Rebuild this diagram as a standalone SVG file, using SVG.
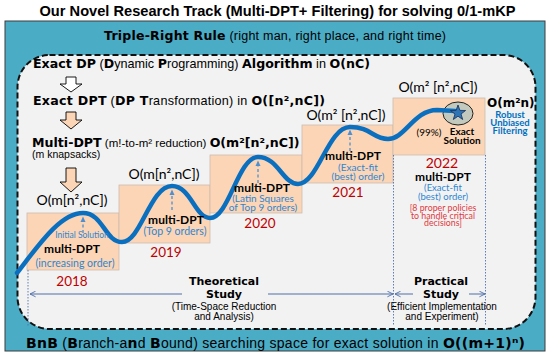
<svg xmlns="http://www.w3.org/2000/svg" width="550" height="357" viewBox="0 0 550 357">
<style>
.r{font-family:"Liberation Sans",Arial,sans-serif;fill:#000}
.b{font-family:"DejaVu Sans",Verdana,sans-serif;font-weight:bold}
.c{font-family:Lato,"Liberation Sans",sans-serif}
.cb{font-family:Lato,"Liberation Sans",sans-serif;font-weight:bold}
.blue{fill:#2f86d2}
.red{fill:#c00000}
.box{fill:#fbd5b5;stroke:#cdbcae;stroke-width:0.8}
.dash{stroke:#4d8fd0;stroke-width:1.3;stroke-dasharray:3 2.5;fill:none}
.dot{stroke:#4f6fb0;stroke-width:0.9;stroke-dasharray:1.5 1.5;fill:none}
.sa{stroke:#4f6fa8;stroke-width:1;fill:none}
</style>
<defs>
<marker id="ah" viewBox="0 0 10 10" refX="5" refY="5" markerWidth="5" markerHeight="5" orient="auto"><path d="M0,1 L9,5 L0,9 Z" fill="#4d8fd0"/></marker>
<marker id="chev" viewBox="0 0 10 10" refX="9" refY="5" markerWidth="7" markerHeight="7" orient="auto-start-reverse"><path d="M1,1 L9,5 L1,9" fill="none" stroke="#4f6fa8" stroke-width="1.3"/></marker>
</defs>

<text x="277.5" y="16" class="r" font-size="14.6" font-weight="bold" text-anchor="middle" textLength="476">Our Novel Research Track (Multi-DPT+ Filtering) for solving 0/1-mKP</text>

<g id="frame">
<rect x="5" y="21" width="540" height="330" fill="#4bacc6" stroke="#3c3c3c" stroke-width="1"/>
<text x="104" y="39.5" class="r" font-size="12.5" textLength="342"><tspan class="b">Triple-Right Rule</tspan> (right man, right place, and right time)</text>
<rect x="17.5" y="55" width="518" height="274" rx="32" fill="#f2f2f2" stroke="#111" stroke-width="2" stroke-dasharray="6 3"/>
<text x="26" y="348" class="r" font-size="14" textLength="499"><tspan class="b">BnB</tspan> (<tspan class="b">B</tspan>ranch-a<tspan class="b">n</tspan>d <tspan class="b">B</tspan>ound) searching space for exact solution in <tspan class="b">O((m+1)ⁿ)</tspan></text>
</g>

<g id="left-steps">
<text x="33" y="68" class="r" font-size="12.6" textLength="337"><tspan class="b">Exact DP</tspan> (<tspan class="b">D</tspan>ynamic <tspan class="b">P</tspan>rogramming) <tspan class="b">Algorithm</tspan> in <tspan class="b">O(nC)</tspan></text>
<path d="M66,77 H76 V84 H82 L71,92 L60,84 H66 Z" fill="#fff" stroke="#000" stroke-width="0.9"/>
<text x="33" y="105" class="r" font-size="12.6" textLength="292"><tspan class="b">Exact DPT</tspan> (<tspan class="b">DP T</tspan>ransformation) in <tspan class="b">O([n²,nC])</tspan></text>
<path d="M66,112 H76 V120 H82 L71,129 L60,120 H66 Z" fill="#fbd5b5" stroke="#000" stroke-width="0.9"/>
<text x="32" y="147" class="r" font-size="11.5"><tspan class="b" font-size="12.6">Multi-DPT</tspan> (m!-to-m² reduction) <tspan class="b" font-size="12.6">O(m²[n²,nC])</tspan></text>
<text x="32" y="158" class="r" font-size="10.5">(m knapsacks)</text>
<path d="M66,168 H76 V182 H82 L71,192 L60,182 H66 Z" fill="#fbd5b5" stroke="#000" stroke-width="0.9"/>
</g>

<g id="boxes">
<rect class="box" x="27" y="213" width="92" height="57"/>
<rect class="box" x="119" y="185" width="91" height="58"/>
<rect class="box" x="210" y="155" width="92" height="58"/>
<rect class="box" x="302" y="125" width="91" height="58"/>
<rect class="box" x="393" y="98" width="92" height="57"/>
</g>

<g id="connectors">
<line class="dot" x1="28" y1="270" x2="28" y2="326"/>
<line class="dot" x1="393.5" y1="155" x2="393.5" y2="326"/>
<line class="dot" x1="485.5" y1="155" x2="485.5" y2="326"/>
<line class="sa" x1="30" y1="294" x2="182" y2="294" marker-start="url(#chev)"/>
<line class="sa" x1="268" y1="294" x2="393" y2="294" marker-end="url(#chev)"/>
<line class="sa" x1="395" y1="294" x2="413" y2="294" marker-start="url(#chev)"/>
<line class="sa" x1="469" y1="294" x2="485" y2="294" marker-end="url(#chev)"/>
<line class="dash" x1="83" y1="233" x2="83" y2="219" marker-end="url(#ah)"/>
<line class="dash" x1="172" y1="210" x2="172" y2="192" marker-end="url(#ah)"/>
<line class="dash" x1="258" y1="183" x2="258" y2="163" marker-end="url(#ah)"/>
<line class="dash" x1="350" y1="151" x2="350" y2="132" marker-end="url(#ah)"/>
<ellipse cx="458" cy="113.5" rx="15" ry="11.5" fill="#c3c9bc" stroke="#111" stroke-width="0.9"/>
<path d="M17,273 C38,246 60,213 83,213 C103,213 105,242 122,242 C141,242 150,186 172,186 C191,186 195,218 210,218 C229,218 238,157 258,157 C278,157 283,184 298,184 C318,184 328,127 350,127 C371,127 373,139 388,139 C405,139 414,110 437,110 L455,111" fill="none" stroke="#0b6fc0" stroke-width="4.5" stroke-linecap="round"/>
<path d="M458,105 L459.9,110.4 L465.6,110.5 L461,114 L462.7,119.5 L458,116.2 L453.3,119.5 L455,114 L450.4,110.5 L456.1,110.4 Z" fill="#2e75b6" stroke="#1f3864" stroke-width="0.9"/>
</g>

<g id="step-2018">
<text x="72" y="205" class="c" font-size="14" text-anchor="middle">O(m[n²,nC])</text>
<text x="82" y="238" class="c blue" font-size="8.5" text-anchor="middle">Initial Solution</text>
<text x="72" y="253" class="cb" font-size="12" text-anchor="middle">multi-DPT</text>
<text x="75" y="267" class="c blue" font-size="10.5" text-anchor="middle">(increasing order)</text>
<text x="72" y="286" class="c red" font-size="13.5" text-anchor="middle">2018</text>
</g>

<g id="step-2019">
<text x="164" y="179" class="c" font-size="14" text-anchor="middle">O(m[n²,nC])</text>
<text x="176" y="224" class="cb" font-size="12" text-anchor="middle">multi-DPT</text>
<text x="175" y="235" class="c blue" font-size="10.5" text-anchor="middle">(Top 9 orders)</text>
<text x="166" y="257" class="c red" font-size="13.5" text-anchor="middle">2019</text>
</g>

<g id="step-2020">
<text x="262" y="192" class="cb" font-size="12" text-anchor="middle">multi-DPT</text>
<text x="263" y="202" class="c blue" font-size="10" text-anchor="middle">(Latin Squares</text>
<text x="263" y="211" class="c blue" font-size="10" text-anchor="middle">of Top 9 orders)</text>
<text x="260" y="228" class="c red" font-size="13.5" text-anchor="middle">2020</text>
</g>

<g id="step-2021">
<text x="346" y="120" class="c" font-size="14" text-anchor="middle">O(m² [n²,nC])</text>
<text x="353" y="160" class="cb" font-size="12" text-anchor="middle">multi-DPT</text>
<text x="358" y="171" class="c blue" font-size="10" text-anchor="middle">(Exact-fit</text>
<text x="358" y="180" class="c blue" font-size="10" text-anchor="middle">(best) order)</text>
<text x="348" y="197" class="c red" font-size="13.5" text-anchor="middle">2021</text>
</g>

<g id="step-2022">
<text x="438" y="92" class="c" font-size="14" text-anchor="middle">O(m² [n²,nC])</text>
<text x="429" y="136" class="c" font-size="10" text-anchor="middle">(99%)</text>
<text x="462" y="135" class="cb" font-size="10" text-anchor="middle">Exact</text>
<text x="462" y="144" class="cb" font-size="10" text-anchor="middle">Solution</text>
<text x="442" y="168" class="c red" font-size="14" text-anchor="middle">2022</text>
<text x="443" y="181" class="cb" font-size="12" text-anchor="middle">multi-DPT</text>
<text x="443" y="191" class="c blue" font-size="9.5" text-anchor="middle">(Exact-fit</text>
<text x="443" y="200" class="c blue" font-size="9.5" text-anchor="middle">(best) order)</text>
<text x="443" y="211" class="c" font-size="8.8" fill="#e0393e" text-anchor="middle">[8 proper policies</text>
<text x="443" y="218.5" class="c" font-size="8.8" fill="#e0393e" text-anchor="middle">to handle critical</text>
<text x="443" y="226" class="c" font-size="8.8" fill="#e0393e" text-anchor="middle">decisions]</text>
</g>

<g id="filtering">
<text x="487" y="107" class="b" font-size="12">O(m²n)</text>
<text x="510" y="118" class="cb" font-size="9.5" fill="#0070c0" text-anchor="middle">Robust</text>
<text x="510" y="126" class="cb" font-size="9.5" fill="#0070c0" text-anchor="middle">Unbiased</text>
<text x="510" y="134" class="cb" font-size="9.5" fill="#0070c0" text-anchor="middle">Filtering</text>
</g>

<g id="study-labels">
<text x="224" y="285" class="b" font-size="11" text-anchor="middle">Theoretical</text>
<text x="224" y="298" class="b" font-size="11" text-anchor="middle">Study</text>
<text x="224" y="310" class="r" font-size="10" text-anchor="middle">(Time-Space Reduction</text>
<text x="224" y="320" class="r" font-size="10" text-anchor="middle">and Analysis)</text>
<text x="441" y="285" class="b" font-size="11" text-anchor="middle">Practical</text>
<text x="441" y="298" class="b" font-size="11" text-anchor="middle">Study</text>
<text x="442" y="310" class="r" font-size="10" text-anchor="middle">(Efficient Implementation</text>
<text x="442" y="320" class="r" font-size="10" text-anchor="middle">and Experiment)</text>
</g>
</svg>
